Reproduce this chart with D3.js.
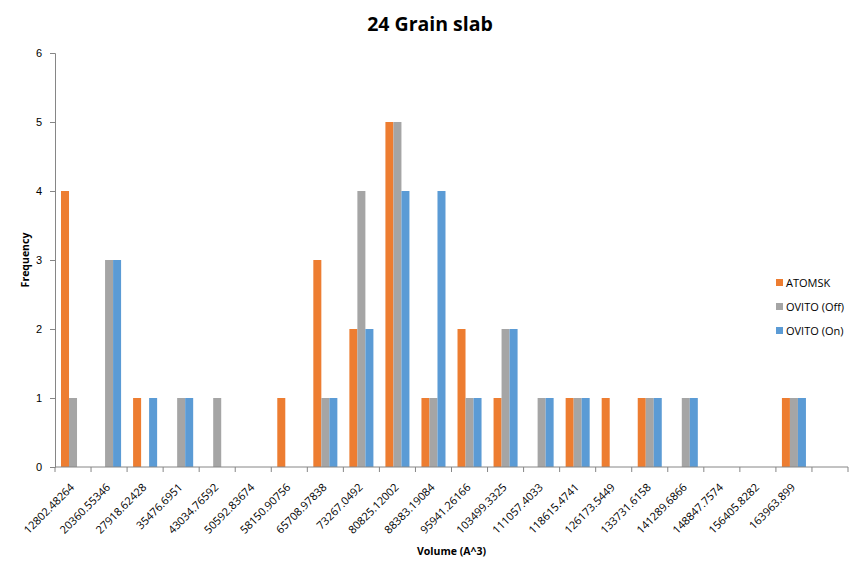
<!DOCTYPE html>
<html>
<head>
<meta charset="utf-8">
<script src="https://cdn.jsdelivr.net/npm/d3@7.9.0/dist/d3.min.js"></script>
<style>
  body { margin: 0; background: #fff; }
  svg { font-family: "Open Sans", "Liberation Sans", sans-serif; }
</style>
</head>
<body>
<div id="chart"></div>
<script>
// histogram bins (upper edge labels), last bin has no label
const bins = ["12802.48264", "20360.55346", "27918.62428", "35476.6951", "43034.76592",
  "50592.83674", "58150.90756", "65708.97838", "73267.0492", "80825.12002", "88383.19084",
  "95941.26166", "103499.3325", "111057.4033", "118615.4741", "126173.5449", "133731.6158",
  "141289.6866", "148847.7574", "156405.8282", "163963.899", ""];

const atomsk   = [4, 0, 1, 0, 0, 0, 1, 3, 2, 5, 1, 2, 1, 0, 1, 1, 1, 0, 0, 0, 1, 0];
const ovitoOff = [1, 3, 0, 1, 1, 0, 0, 1, 4, 5, 1, 1, 2, 1, 1, 0, 1, 1, 0, 0, 1, 0];
const ovitoOn  = [0, 3, 1, 1, 0, 0, 0, 1, 2, 4, 4, 1, 2, 1, 1, 0, 1, 1, 0, 0, 1, 0];

const seriesNames = ["ATOMSK", "OVITO (Off)", "OVITO (On)"];
const seriesColors = ["#ed7d31", "#a5a5a5", "#5b9bd5"];
const yTicks = [0, 1, 2, 3, 4, 5, 6];

const W = 860, H = 575;
const margin = { top: 53, right: 12, bottom: 108, left: 55 };
const innerW = W - margin.left - margin.right;
const innerH = H - margin.top - margin.bottom;

const svg = d3.select("#chart").append("svg")
  .attr("width", W).attr("height", H);

svg.append("text")
  .attr("x", W / 2).attr("y", 31)
  .attr("text-anchor", "middle")
  .style("font-size", "19.5px").style("font-weight", "bold")
  .attr("fill", "#000")
  .text("24 Grain slab");

const g = svg.append("g").attr("transform", `translate(${margin.left},${margin.top})`);

const x = d3.scaleBand().domain(d3.range(bins.length)).range([0, innerW]).padding(0);
const x1 = d3.scaleBand().domain(d3.range(seriesNames.length))
  .range([x.bandwidth() / 6, x.bandwidth() * 5 / 6]).padding(0);
const y = d3.scaleLinear().domain([0, 6]).range([innerH, 0]);

const data = [atomsk, ovitoOff, ovitoOn];

// bars
const groups = g.selectAll("g.bin")
  .data(bins.map((b, i) => i))
  .join("g")
  .attr("class", "bin")
  .attr("transform", i => `translate(${x(i)},0)`);

groups.selectAll("rect")
  .data(i => data.map((s, k) => ({ k, v: s[i] })))
  .join("rect")
  .attr("x", d => x1(d.k))
  .attr("width", x1.bandwidth())
  .attr("y", d => y(d.v))
  .attr("height", d => innerH - y(d.v))
  .attr("fill", d => seriesColors[d.k]);

// y axis
const yAxis = g.append("g")
  .call(d3.axisLeft(y).tickValues(yTicks).tickSize(5).tickPadding(8).tickFormat(d3.format("d")));
yAxis.select(".domain").attr("stroke", "#868686");
yAxis.selectAll(".tick line").attr("stroke", "#868686");
yAxis.selectAll("text").style("font-size", "11px").attr("fill", "#000");

// x axis: ticks at bin boundaries
const xAxisG = g.append("g").attr("transform", `translate(0,${innerH})`);
xAxisG.append("line")
  .attr("x1", 0).attr("x2", innerW)
  .attr("stroke", "#868686");
xAxisG.selectAll("line.tk")
  .data(d3.range(bins.length + 1))
  .join("line")
  .attr("class", "tk")
  .attr("x1", i => i * x.bandwidth()).attr("x2", i => i * x.bandwidth())
  .attr("y1", 0).attr("y2", 5)
  .attr("stroke", "#868686");
xAxisG.selectAll("text.lbl")
  .data(bins.map((b, i) => ({ b, i })))
  .join("text")
  .attr("class", "lbl")
  .attr("text-anchor", "end")
  .attr("transform", d => `translate(${x(d.i) + x.bandwidth() / 2 + 2},${21}) rotate(-45)`)
  .style("font-size", "11px")
  .attr("fill", "#000")
  .text(d => d.b);

// axis titles
svg.append("text")
  .attr("x", margin.left + innerW / 2).attr("y", 555)
  .attr("text-anchor", "middle")
  .style("font-size", "10.5px").style("font-weight", "bold")
  .text("Volume (A^3)");

svg.append("text")
  .attr("transform", `translate(29,${margin.top + innerH / 2}) rotate(-90)`)
  .attr("text-anchor", "middle")
  .style("font-size", "10.5px").style("font-weight", "bold")
  .text("Frequency");

// legend
const legend = svg.append("g").attr("transform", "translate(776,279)");
seriesNames.forEach((name, k) => {
  const row = legend.append("g").attr("transform", `translate(0,${k * 24})`);
  row.append("rect").attr("width", 7).attr("height", 7).attr("fill", seriesColors[k]);
  row.append("text").attr("x", 10).attr("y", 8)
    .style("font-size", "11px").attr("fill", "#000").text(name);
});
</script>
</body>
</html>
